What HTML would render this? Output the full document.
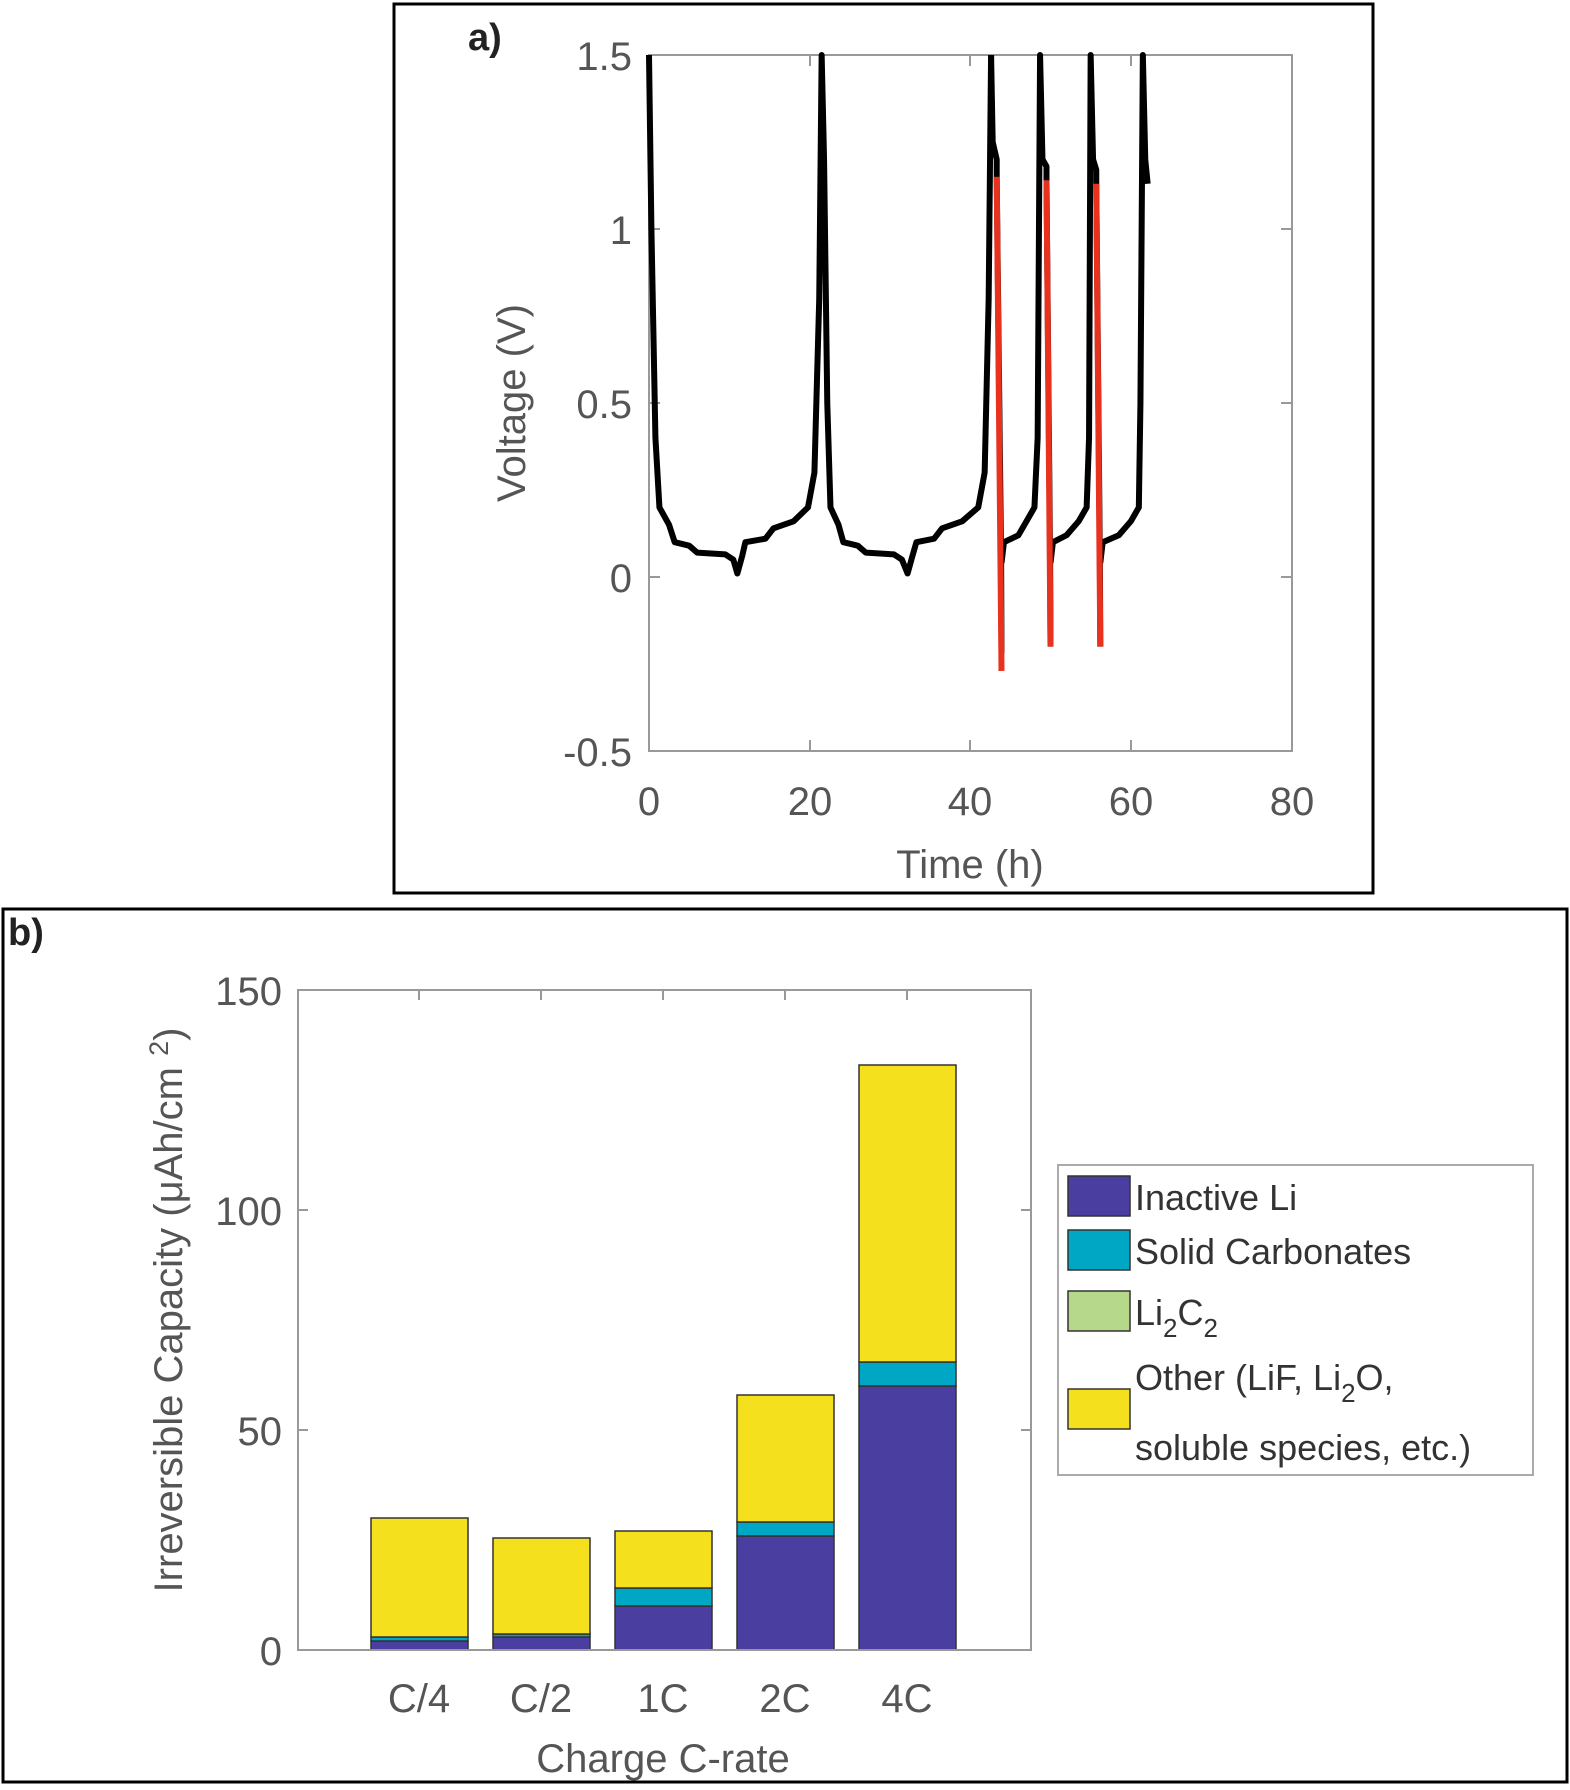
<!DOCTYPE html>
<html><head><style>
body{margin:0;background:#fff;}
svg text{font-family:"Liberation Sans",sans-serif;fill:#555;}
</style></head><body>
<svg width="1570" height="1785" viewBox="0 0 1570 1785" xmlns="http://www.w3.org/2000/svg">
<rect x="394" y="4" width="979" height="889" fill="none" stroke="#000" stroke-width="3"/>
<rect x="3" y="909" width="1564" height="873" fill="none" stroke="#000" stroke-width="3"/>
<text x="468" y="50" font-size="38" font-weight="bold" style="fill:#222">a)</text>
<text x="8" y="945" font-size="38" font-weight="bold" style="fill:#222">b)</text>
<!-- panel a -->
<rect x="649" y="55" width="643" height="696" fill="none" stroke="#999" stroke-width="2"/>
<g stroke="#999" stroke-width="2">
<line x1="810" y1="751" x2="810" y2="740"/><line x1="970" y1="751" x2="970" y2="740"/><line x1="1131" y1="751" x2="1131" y2="740"/>
<line x1="810" y1="55" x2="810" y2="66"/><line x1="970" y1="55" x2="970" y2="66"/><line x1="1131" y1="55" x2="1131" y2="66"/>
<line x1="649" y1="229" x2="660" y2="229"/><line x1="649" y1="403" x2="660" y2="403"/><line x1="649" y1="577" x2="660" y2="577"/>
<line x1="1292" y1="229" x2="1281" y2="229"/><line x1="1292" y1="403" x2="1281" y2="403"/><line x1="1292" y1="577" x2="1281" y2="577"/>
</g>
<g font-size="40" text-anchor="end">
<text x="632" y="70">1.5</text><text x="632" y="244">1</text><text x="632" y="418">0.5</text><text x="632" y="592">0</text><text x="632" y="766">-0.5</text>
</g>
<g font-size="40" text-anchor="middle">
<text x="649" y="815">0</text><text x="810" y="815">20</text><text x="970" y="815">40</text><text x="1131" y="815">60</text><text x="1292" y="815">80</text>
<text x="970" y="878">Time (h)</text>
<text transform="translate(525,403) rotate(-90)">Voltage (V)</text>
</g>
<g transform="translate(649,577) scale(8.03,-348)" fill="none" stroke-width="6" stroke-linejoin="round">
<path vector-effect="non-scaling-stroke" stroke="#000" d="M0,1.5 L0.3,1 L0.8,0.4 L1.3,0.2 L2.5,0.15 L3.2,0.1 L5,0.09 L6,0.07 L9.5,0.065 L10.5,0.05 L11,0.01 L11.6,0.06 L12,0.1 L14.5,0.11 L15.5,0.14 L18,0.16 L19.8,0.2 L20.6,0.3 L21.2,0.8 L21.5,1.5 L21.8,1.2 L22.2,0.5 L22.6,0.2 L23.6,0.15 L24.2,0.1 L26,0.09 L27,0.07 L30.5,0.065 L31.5,0.05 L32.2,0.01 L32.8,0.06 L33.3,0.1 L35.5,0.11 L36.5,0.14 L39,0.16 L41,0.2 L41.8,0.3 L42.3,0.8 L42.6,1.5"/>
<path vector-effect="non-scaling-stroke" stroke="#000" d="M42.6,1.5 L42.8,1.25 L43.3,1.2 L43.3,1.15 L43.85,0.05 L43.9,-0.22"/>
<path vector-effect="non-scaling-stroke" stroke="#000" d="M43.9,0.04 L44.2,0.1 L46,0.12 L47,0.16 L48,0.2 L48.4,0.4 L48.7,1.5 L49,1.2 L49.5,1.18 L49.5,1.14 L49.95,0.05 L50,-0.2"/>
<path vector-effect="non-scaling-stroke" stroke="#000" d="M50,0.04 L50.3,0.1 L52,0.12 L53.5,0.16 L54.5,0.2 L54.8,0.4 L55,1.5 L55.3,1.2 L55.7,1.17 L55.7,1.13 L56.15,0.05 L56.2,-0.2"/>
<path vector-effect="non-scaling-stroke" stroke="#000" d="M56.2,0.04 L56.5,0.1 L58.5,0.12 L60,0.16 L61,0.2 L61.2,0.5 L61.5,1.5 L61.8,1.2 L62.1,1.13"/>
<path vector-effect="non-scaling-stroke" stroke="#e8321e" d="M43.3,1.15 L43.9,-0.27"/>
<path vector-effect="non-scaling-stroke" stroke="#e8321e" d="M49.5,1.14 L50,-0.2"/>
<path vector-effect="non-scaling-stroke" stroke="#e8321e" d="M55.7,1.13 L56.2,-0.2"/>
</g>
<!-- panel b -->
<g stroke="#333" stroke-width="1.5">
<rect x="371" y="1641" width="97" height="9" fill="#4a3fa0"/>
<rect x="371" y="1637" width="97" height="4" fill="#00a7c4"/>
<rect x="371" y="1518" width="97" height="119" fill="#f5e01e"/>
<rect x="493" y="1637" width="97" height="13" fill="#4a3fa0"/>
<rect x="493" y="1634" width="97" height="3" fill="#00a7c4"/>
<rect x="493" y="1538" width="97" height="96" fill="#f5e01e"/>
<rect x="615" y="1606" width="97" height="44" fill="#4a3fa0"/>
<rect x="615" y="1588" width="97" height="18" fill="#00a7c4"/>
<rect x="615" y="1531" width="97" height="57" fill="#f5e01e"/>
<rect x="737" y="1536" width="97" height="114" fill="#4a3fa0"/>
<rect x="737" y="1522" width="97" height="14" fill="#00a7c4"/>
<rect x="737" y="1395" width="97" height="127" fill="#f5e01e"/>
<rect x="859" y="1386" width="97" height="264" fill="#4a3fa0"/>
<rect x="859" y="1362" width="97" height="24" fill="#00a7c4"/>
<rect x="859" y="1065" width="97" height="297" fill="#f5e01e"/>
</g>
<rect x="298" y="990" width="733" height="660" fill="none" stroke="#999" stroke-width="2"/>
<g stroke="#999" stroke-width="2">
<line x1="419" y1="990" x2="419" y2="1000"/><line x1="541" y1="990" x2="541" y2="1000"/><line x1="663" y1="990" x2="663" y2="1000"/><line x1="785" y1="990" x2="785" y2="1000"/><line x1="907" y1="990" x2="907" y2="1000"/>
<line x1="298" y1="1210" x2="308" y2="1210"/><line x1="298" y1="1430" x2="308" y2="1430"/>
<line x1="1031" y1="1210" x2="1021" y2="1210"/><line x1="1031" y1="1430" x2="1021" y2="1430"/>
</g>
<g font-size="40" text-anchor="end">
<text x="282" y="1005">150</text><text x="282" y="1225">100</text><text x="282" y="1445">50</text><text x="282" y="1665">0</text>
</g>
<g font-size="40" text-anchor="middle">
<text x="419" y="1712">C/4</text><text x="541" y="1712">C/2</text><text x="663" y="1712">1C</text><text x="785" y="1712">2C</text><text x="907" y="1712">4C</text>
<text x="663" y="1772">Charge C-rate</text>
<text transform="translate(182,1310) rotate(-90)" font-size="40">Irreversible Capacity (μAh/cm <tspan dy="-14" font-size="27">2</tspan><tspan dy="14">)</tspan></text>
</g>
<rect x="1058" y="1165" width="475" height="310" fill="#fff" stroke="#aaa" stroke-width="2"/>
<g stroke="#333" stroke-width="1.5">
<rect x="1068" y="1176" width="62" height="40" fill="#4a3fa0"/>
<rect x="1068" y="1230" width="62" height="40" fill="#00a7c4"/>
<rect x="1068" y="1291" width="62" height="40" fill="#b5d88a"/>
<rect x="1068" y="1389" width="62" height="40" fill="#f5e01e"/>
</g>
<g font-size="36">
<text x="1135" y="1210" style="fill:#333">Inactive Li</text>
<text x="1135" y="1264" style="fill:#333">Solid Carbonates</text>
<text x="1135" y="1325" style="fill:#333">Li<tspan dy="12" font-size="26">2</tspan><tspan dy="-12">C</tspan><tspan dy="12" font-size="26">2</tspan></text>
<text x="1135" y="1390" style="fill:#333">Other (LiF, Li<tspan dy="12" font-size="26">2</tspan><tspan dy="-12">O,</tspan></text>
<text x="1135" y="1460" style="fill:#333">soluble species, etc.)</text>
</g>
</svg>
</body></html>
